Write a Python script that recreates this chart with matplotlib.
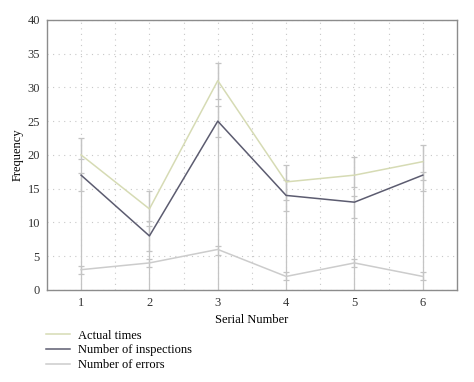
import matplotlib.pyplot as plt
import numpy as np

plt.rcParams.update(
    {
        "font.family": ["Liberation Serif", "DejaVu Serif"],
        "font.size": 9,
    }
)

serial = [1, 2, 3, 4, 5, 6]
actual_times = [20, 12, 31, 16, 17, 19]
inspections = [17, 8, 25, 14, 13, 17]
errors = [3, 4, 6, 2, 4, 2]

# error bar ends
actual_hi = [22.5, 14.6, 33.6, 18.5, 19.7, 21.5]
actual_lo = [19.4, 10.2, 28.3, 13.3, 15.2, 16.3]
insp_hi = [17.3, 9.4, 27.2, 16.3, 13.9, 17.4]
insp_lo = [14.7, 5.7, 22.6, 11.7, 10.6, 14.7]
err_hi = [3.6, 4.6, 6.5, 2.6, 4.6, 2.6]
err_lo = [2.4, 3.4, 5.2, 1.4, 3.4, 1.4]

C_ACTUAL = "#d6dbb4"
C_INSP = "#5c5c70"
C_ERR = "#cccccc"
C_BAR = "#c4c4c4"

fig = plt.figure(figsize=(4.74, 3.82), dpi=100)
ax = fig.add_axes([0.099, 0.241, 0.865, 0.707])

# stems from zero up to highest bar end
tops = np.max([actual_hi, insp_hi, err_hi], axis=0)
ax.vlines(serial, 0, tops, color=C_BAR, lw=0.9, zorder=2)

series = [
    (actual_times, actual_lo, actual_hi, C_ACTUAL, "Actual times"),
    (inspections, insp_lo, insp_hi, C_INSP, "Number of inspections"),
    (errors, err_lo, err_hi, C_ERR, "Number of errors"),
]
for vals, lo, hi, c, lab in series:
    v = np.array(vals, dtype=float)
    yerr = [np.abs(v - np.array(lo)), np.abs(np.array(hi) - v)]
    ax.errorbar(serial, v, yerr=yerr, fmt="none", ecolor=C_BAR, elinewidth=0.9,
                capsize=2.5, capthick=0.9, zorder=3)
    ax.plot(serial, v, color=c, lw=1.1, label=lab, zorder=4)

ax.set_xlim(0.5, 6.5)
ax.set_ylim(0, 40)
ax.set_xticks(serial)
ax.set_xticks(np.arange(1.5, 6.5, 1.0), minor=True)
ax.set_yticks(np.arange(0, 41, 5))
ax.grid(True, which="both", linestyle=(0, (1, 4)), color="#c8c8c8", lw=0.8, zorder=0)
ax.tick_params(which="both", length=0, colors="#333333", labelsize=9, pad=5)

for s in ax.spines.values():
    s.set_color("#8c8c8c")
    s.set_linewidth(1.0)

ax.set_xlabel("Serial Number", fontsize=9, labelpad=4)
ax.set_ylabel("Frequency", fontsize=9, labelpad=3)

fig.legend(loc="upper left", bbox_to_anchor=(0.098, 0.137), frameon=False,
           fontsize=9, handlelength=1.9, handletextpad=0.6, labelspacing=0.22,
           borderaxespad=0, borderpad=0)

fig.savefig("out.png", dpi=100, facecolor="white")
plt.close(fig)
